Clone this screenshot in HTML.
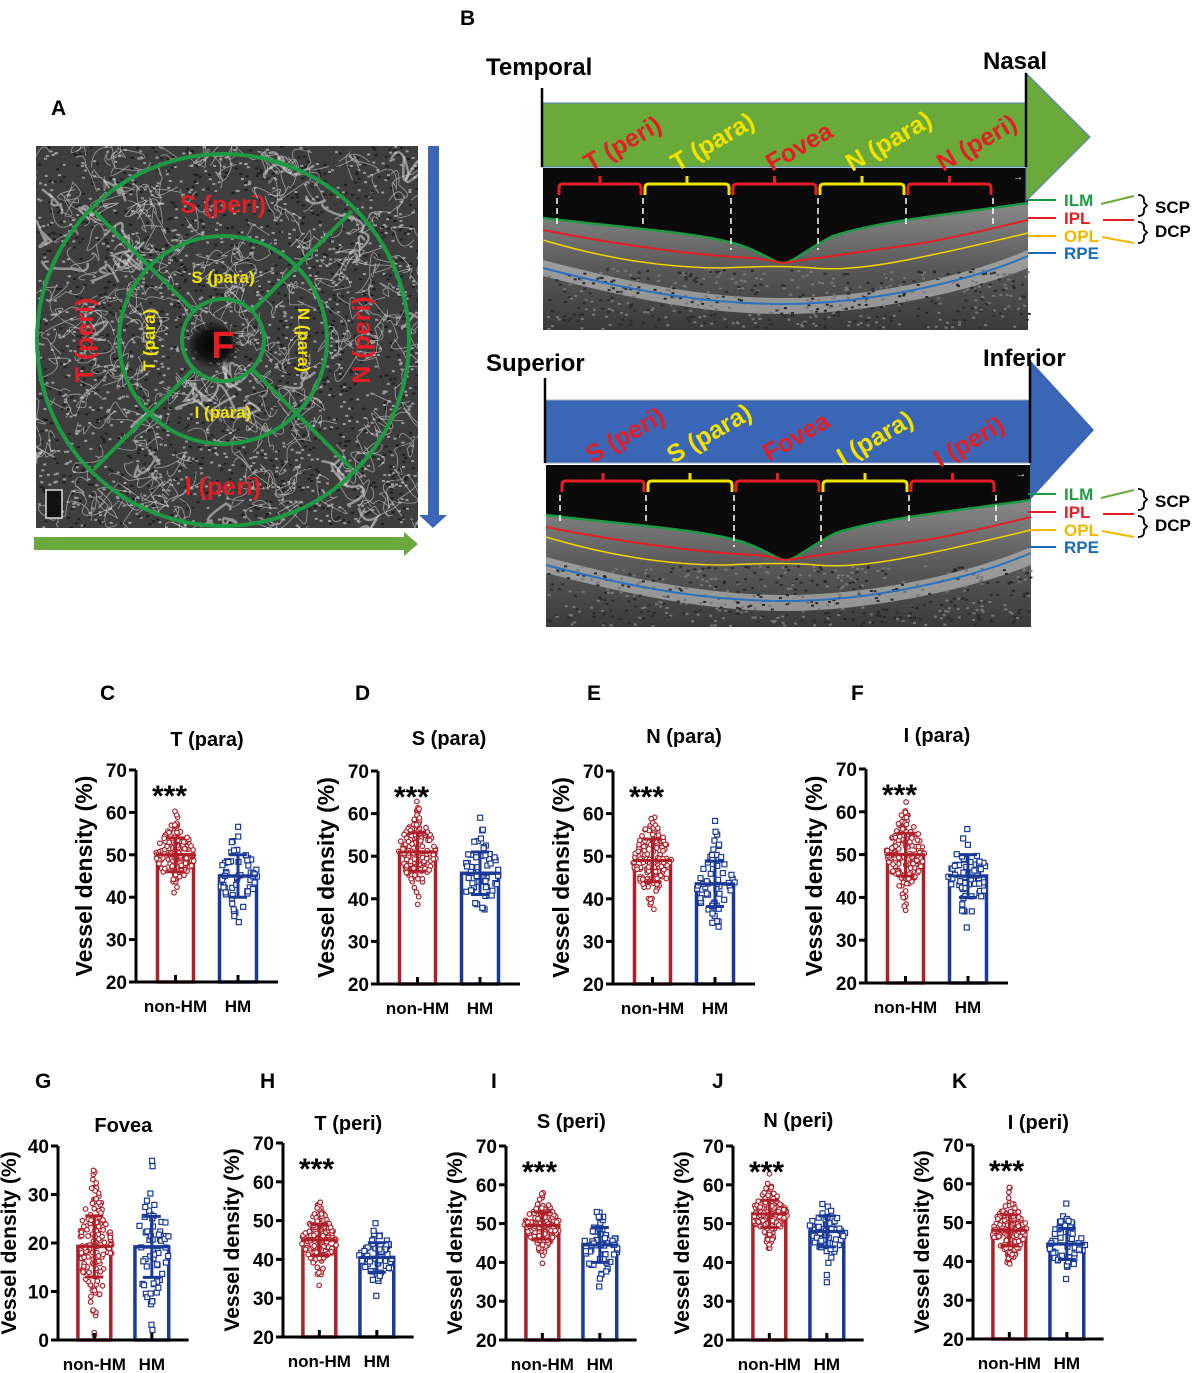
<!DOCTYPE html>
<html><head><meta charset="utf-8"><style>
html,body{margin:0;padding:0;background:#fff}
svg{display:block;font-family:"Liberation Sans",Arial,sans-serif}
</style></head><body>
<svg id="s" width="1200" height="1373" viewBox="0 0 1200 1373" xmlns="http://www.w3.org/2000/svg">
<defs>
<radialGradient id="fov" cx="0.5" cy="0.5" r="0.5"><stop offset="0" stop-color="#000"/><stop offset="0.6" stop-color="#111"/><stop offset="1" stop-color="#111" stop-opacity="0"/></radialGradient>
<linearGradient id="octg" x1="0" y1="0" x2="0" y2="1"><stop offset="0" stop-color="#8a8a8a"/><stop offset="0.5" stop-color="#5a5a5a"/><stop offset="1" stop-color="#3a3a3a"/></linearGradient>
<clipPath id="clipA"><rect x="36" y="146" width="382" height="382"/></clipPath>
</defs>
<g font-weight="bold">
<text x="51" y="115" font-size="21">A</text>
<text x="460" y="25" font-size="21">B</text>
</g>
<rect x="36" y="146" width="382" height="382" fill="#3e3e3e"/>
<g id="vess" clip-path="url(#clipA)"></g>
<ellipse cx="214" cy="345" rx="28" ry="24" fill="url(#fov)"/>
<rect x="46" y="490" width="16" height="28" fill="#111" stroke="#ddd" stroke-width="1.5"/>
<g fill="none" stroke="#1e9a45" stroke-width="4">
<circle cx="223" cy="340" r="186"/><circle cx="223" cy="340" r="104"/><circle cx="223" cy="340" r="41"/>
<line x1="94" y1="211" x2="194" y2="311"/><line x1="352" y1="211" x2="252" y2="311"/>
<line x1="94" y1="469" x2="194" y2="369"/><line x1="352" y1="469" x2="252" y2="369"/>
</g>
<g font-weight="bold" text-anchor="middle">
<text x="223" y="213" font-size="25" fill="#e31e24">S (peri)</text>
<text x="223" y="495" font-size="25" fill="#e31e24">I (peri)</text>
<text x="223" y="358" font-size="38" fill="#e31e24">F</text>
<text x="223" y="283" font-size="17" fill="#f2e200">S (para)</text>
<text x="223" y="418" font-size="17" fill="#f2e200">I (para)</text>
<text transform="translate(93,340) rotate(-90)" font-size="25" fill="#e31e24">T (peri)</text>
<text transform="translate(370,340) rotate(-90)" font-size="25" fill="#e31e24">N (peri)</text>
<text transform="translate(155,340) rotate(-90)" font-size="17" fill="#f2e200">T (para)</text>
<text transform="translate(298,340) rotate(90)" font-size="17" fill="#f2e200">N (para)</text>
</g>
<polygon points="428,146 439,146 439,515 447,515 433,528 419,515 428,515" fill="#3a66b5"/>
<polygon points="34,537 404,537 404,532 418,544 404,556 404,550 34,550" fill="#6aaa3a"/>
<g id="oct1" transform="translate(543,168)"></g>
<g id="oct2" transform="translate(546,465)"></g>
<g font-weight="bold" font-size="24">
<text x="486" y="75">Temporal</text><text x="983" y="69">Nasal</text>
<text x="486" y="371">Superior</text><text x="983" y="366">Inferior</text>
</g>
<rect x="542" y="103" width="484" height="64" fill="#6aaa3a" stroke="#4a80c0" stroke-width="1"/>
<polygon points="1026,73 1090,137 1026,201" fill="#6aaa3a" stroke="#4a80c0" stroke-width="1"/>
<line x1="542" y1="88" x2="542" y2="167" stroke="#000" stroke-width="2.5"/>
<line x1="1026" y1="73" x2="1026" y2="167" stroke="#000" stroke-width="2.5"/>
<rect x="545" y="400" width="485" height="63" fill="#3a66b5" stroke="#9ab" stroke-width="1"/>
<polygon points="1030,360 1094,430 1030,500" fill="#3a66b5"/>
<line x1="545" y1="378" x2="545" y2="463" stroke="#000" stroke-width="2.5"/>
<line x1="1030" y1="360" x2="1030" y2="463" stroke="#000" stroke-width="2.5"/>
<g font-weight="bold" font-size="25">
<text transform="translate(590,172) rotate(-30)" fill="#e31e24">T (peri)</text>
<text transform="translate(677,172) rotate(-30)" fill="#f2e200">T (para)</text>
<text transform="translate(772,172) rotate(-30)" fill="#e31e24">Fovea</text>
<text transform="translate(852,172) rotate(-30)" fill="#f2e200">N (para)</text>
<text transform="translate(943,172) rotate(-30)" fill="#e31e24">N (peri)</text>
<text transform="translate(592,464) rotate(-30)" fill="#e31e24">S (peri)</text>
<text transform="translate(673,464) rotate(-30)" fill="#f2e200">S (para)</text>
<text transform="translate(769,462) rotate(-30)" fill="#e31e24">Fovea</text>
<text transform="translate(843,466) rotate(-30)" fill="#f2e200">I (para)</text>
<text transform="translate(940,468) rotate(-30)" fill="#e31e24">I (peri)</text>
</g>
<g id="legs"></g>
<g id="charts"></g>
</svg>
<script>
var NS="http://www.w3.org/2000/svg";
function el(p,t,a,txt){var e=document.createElementNS(NS,t);for(var k in a)e.setAttribute(k,a[k]);if(txt!=null)e.textContent=txt;p.appendChild(e);return e;}
var seed=12345;function rnd(){seed=(seed*16807)%2147483647;return (seed-1)/2147483646;}
function gauss(){var u=rnd()||1e-9,v=rnd();return Math.sqrt(-2*Math.log(u))*Math.cos(2*Math.PI*v);}
var vg=document.getElementById('vess');
for(var i=0;i<2500;i++){el(vg,'rect',{x:36+rnd()*382,y:146+rnd()*382,width:3,height:2,fill:rnd()<0.5?'#9a9a9a':'#1e1e1e'});}
for(var i=0;i<320;i++){var x=36+rnd()*382,y=146+rnd()*382,d="M"+x.toFixed(1)+" "+y.toFixed(1);
 for(var j=0;j<3;j++){var cx=x+(rnd()-0.5)*40,cy=y+(rnd()-0.5)*40;x+=(rnd()-0.5)*40;y+=(rnd()-0.5)*40;d+=" Q"+cx.toFixed(1)+" "+cy.toFixed(1)+" "+x.toFixed(1)+" "+y.toFixed(1);}
 el(vg,'path',{d:d,fill:'none',stroke:'#d0d0d0','stroke-width':(rnd()<0.08?2.5:0.9),'stroke-opacity':0.6});}
function oct(id,w){var g=document.getElementById(id);var h=162;
 el(g,'rect',{x:0,y:0,width:w,height:h,fill:'#0a0a0a'});
 var ilm="M0 50 C80 60 170 65 205 80 C225 88 232 95 240 95 C250 95 262 82 290 68 C340 52 420 45 485 35";
 el(g,'path',{d:ilm+" L485 162 L0 162 Z",fill:'url(#octg)'});
 el(g,'path',{d:"M0 92 C100 118 170 130 240 130 C320 130 420 110 485 82 L485 100 C420 126 320 146 240 146 C170 146 100 134 0 108 Z",fill:'#b0b0b0',opacity:0.75});
 for(var i=0;i<500;i++)el(g,'rect',{x:rnd()*w,y:100+rnd()*60,width:3,height:2,fill:rnd()<0.5?'#777':'#2a2a2a'});
 el(g,'path',{d:ilm,fill:'none',stroke:'#1e9a45','stroke-width':2.5});
 el(g,'path',{d:"M0 62 C80 78 160 88 210 90 C230 92 235 95 240 95 C260 92 300 86 380 75 C420 68 460 58 485 52",fill:'none',stroke:'#e31e24','stroke-width':2});
 el(g,'path',{d:"M0 72 C60 90 120 100 180 100 C220 98 250 98 270 100 C310 104 360 95 485 65",fill:'none',stroke:'#f2d200','stroke-width':1.5});
 el(g,'path',{d:"M0 100 C100 126 170 136 240 136 C320 136 420 116 485 88",fill:'none',stroke:'#2a72c0','stroke-width':2});
 var xs=[14,100,188,275,363,450],cols=['#e31e24','#f2e200','#e31e24','#f2e200','#e31e24'];
 for(var i=0;i<5;i++){var a=xs[i]+2,b=xs[i+1]-2,m=(a+b)/2;
  el(g,'path',{d:"M"+a+" 27 L"+a+" 20 Q"+a+" 16 "+(a+4)+" 16 L"+(b-4)+" 16 Q"+b+" 16 "+b+" 20 L"+b+" 27 M"+m+" 16 L"+m+" 8",fill:'none',stroke:cols[i],'stroke-width':3});}
 for(var i=0;i<6;i++)el(g,'line',{x1:xs[i],y1:30,x2:xs[i],y2:i==2||i==3?82:60,stroke:'#fff','stroke-width':1.5,'stroke-dasharray':'6 4'});
 el(g,'text',{x:470,y:12,fill:'#fff','font-size':10},'→');
}
oct('oct1',485);oct('oct2',484);
var lg=document.getElementById('legs');
function leg(dy){var L=[['ILM','#1e9a45',204],['IPL','#e31e24',222],['OPL','#f2b800',240],['RPE','#1a6ab5',257]];
 L.forEach(function(l){el(lg,'line',{x1:1028,y1:l[2]+dy-4,x2:1056,y2:l[2]+dy-4,stroke:l[1],'stroke-width':2});
  el(lg,'text',{x:1064,y:l[2]+dy+2,fill:l[1],'font-size':17,'font-weight':'bold'},l[0]);});
 el(lg,'line',{x1:1101,y1:204+dy,x2:1134,y2:196+dy,stroke:'#6aaa3a','stroke-width':2});
 el(lg,'line',{x1:1103,y1:220+dy,x2:1134,y2:220+dy,stroke:'#e31e24','stroke-width':2});
 el(lg,'line',{x1:1102,y1:237+dy,x2:1134,y2:243+dy,stroke:'#f2b800','stroke-width':2});
 function br(y1,y2){var m=(y1+y2)/2;el(lg,'path',{d:"M1138 "+y1+" Q1144 "+y1+" 1144 "+(y1+5)+" L1144 "+(m-3)+" L1147 "+m+" L1144 "+(m+3)+" L1144 "+(y2-5)+" Q1144 "+y2+" 1138 "+y2,fill:'none',stroke:'#000','stroke-width':1.8});}
 br(195+dy,216+dy);br(222+dy,243+dy);
 el(lg,'text',{x:1155,y:213+dy,'font-size':17,'font-weight':'bold'},'SCP');
 el(lg,'text',{x:1155,y:237+dy,'font-size':17,'font-weight':'bold'},'DCP');}
leg(0);leg(294);
var cg=document.getElementById('charts');
function chart(o){
 var ax=o.ax,yT=o.yT,yB=o.yB,top=o.top,rng=top-o.bot,s=o.big?1:0.92;
 function Y(v){return yB-(v-o.bot)/rng*(yB-yT);}
 var b1=[ax+20*s,ax+59*s],b2=[ax+82*s,ax+122*s],end=ax+142*s;
 el(cg,'text',{x:o.lx,y:o.ly,'font-size':21,'font-weight':'bold'},o.L);
 el(cg,'text',{x:(b1[0]+b2[1])/2,y:o.ty,'font-size':20,'font-weight':'bold','text-anchor':'middle'},o.t);
 var cs=[['#b0202a',b1,o.m1,o.s1,150,'c'],['#1a3a9a',b2,o.m2,o.s2,60,'s']];
 cs.forEach(function(c){var a=c[1][0],b=c[1][1],mid=(a+b)/2,col=c[0];
  el(cg,'rect',{x:a+1.5,y:Y(c[2]),width:b-a-3,height:yB-Y(c[2]),fill:'#fff',stroke:col,'stroke-width':3.5});
  for(var i=0;i<c[4];i++){var z=gauss();if(Math.abs(z)>3)z=z*0.8;var v=c[2]+z*c[3];if(v>top-2)v=top-2;if(v<o.bot+1)v=o.bot+1;
   var off=(rnd()*2-1)*(b-a)/2*Math.exp(-z*z/2.2);var x=mid+off,y=Y(v);
   if(c[5]=='c')el(cg,'circle',{cx:x,cy:y,r:2.3,fill:'#fff',stroke:col,'stroke-width':1.2});
   else el(cg,'rect',{x:x-2.5,y:y-2.5,width:5,height:5,fill:'#fff',stroke:col,'stroke-width':1.2});}
  el(cg,'line',{x1:mid,y1:Y(c[2]+c[3]),x2:mid,y2:Y(c[2]-c[3]),stroke:col,'stroke-width':3});
  el(cg,'line',{x1:mid-9,y1:Y(c[2]+c[3]),x2:mid+9,y2:Y(c[2]+c[3]),stroke:col,'stroke-width':3});
  el(cg,'line',{x1:mid-9,y1:Y(c[2]-c[3]),x2:mid+9,y2:Y(c[2]-c[3]),stroke:col,'stroke-width':3});
  el(cg,'line',{x1:mid-(b-a)/2,y1:Y(c[2]),x2:mid+(b-a)/2,y2:Y(c[2]),stroke:col,'stroke-width':3});
  el(cg,'line',{x1:mid,y1:yB,x2:mid,y2:yB-7,stroke:'#000','stroke-width':3});
 });
 el(cg,'path',{d:"M"+ax+" "+yT+" L"+ax+" "+yB+" L"+end+" "+yB,fill:'none',stroke:'#000','stroke-width':3});
 for(var v=o.bot;v<=top;v+=10){var y=Y(v);el(cg,'line',{x1:ax-7,y1:y,x2:ax,y2:y,stroke:'#000','stroke-width':3});
  el(cg,'text',{x:ax-9,y:y+7,'font-size':19,'font-weight':'bold','text-anchor':'end'},String(v));}
 var lo=o.lo||44;
 el(cg,'text',{transform:'translate('+(ax-lo)+','+((yT+yB)/2)+') rotate(-90)','font-size':o.lf||23,'font-weight':'bold','text-anchor':'middle'},'Vessel density (%)');
 if(o.star)el(cg,'text',{x:ax+16,y:yT+36,'font-size':30,'font-weight':'bold'},'***');
 el(cg,'text',{x:(b1[0]+b1[1])/2,y:yB+30,'font-size':17,'font-weight':'bold','text-anchor':'middle'},'non-HM');
 el(cg,'text',{x:(b2[0]+b2[1])/2,y:yB+30,'font-size':17,'font-weight':'bold','text-anchor':'middle'},'HM');
}
var P=[
{L:'C',lx:100,ly:700,t:'T (para)',ty:746,ax:136,yT:770,yB:982,top:70,bot:20,m1:50,s1:4,m2:45,s2:5,star:1,big:1},
{L:'D',lx:355,ly:700,t:'S (para)',ty:745,ax:378,yT:771,yB:984,top:70,bot:20,m1:51,s1:4.5,m2:46,s2:5,star:1,big:1},
{L:'E',lx:587,ly:700,t:'N (para)',ty:743,ax:613,yT:771,yB:984,top:70,bot:20,m1:49,s1:5,m2:43.5,s2:5.3,star:1,big:1},
{L:'F',lx:851,ly:700,t:'I (para)',ty:742,ax:866,yT:769,yB:983,top:70,bot:20,m1:50,s1:5,m2:45,s2:5,star:1,big:1},
{L:'G',lx:35,ly:1088,t:'Fovea',ty:1132,ax:58,yT:1146,yB:1340,top:40,bot:0,m1:19.3,s1:6.3,m2:19.2,s2:6.3,star:0,lo:42,lf:21},
{L:'H',lx:260,ly:1088,t:'T (peri)',ty:1130,ax:283,yT:1143,yB:1337,top:70,bot:20,m1:45,s1:4,m2:40.5,s2:3.8,star:1,lf:21},
{L:'I',lx:491,ly:1088,t:'S (peri)',ty:1128,ax:506,yT:1146,yB:1340,top:70,bot:20,m1:49.5,s1:3.5,m2:44.5,s2:4.5,star:1,lf:21},
{L:'J',lx:712,ly:1088,t:'N (peri)',ty:1127,ax:733,yT:1146,yB:1340,top:70,bot:20,m1:52.5,s1:3.5,m2:48,s2:4,star:1,lf:21},
{L:'K',lx:952,ly:1088,t:'I (peri)',ty:1129,ax:973,yT:1145,yB:1339,top:70,bot:20,m1:48,s1:4,m2:44.5,s2:4,star:1,lf:21}];
P.forEach(chart);
</script>
</body></html>
